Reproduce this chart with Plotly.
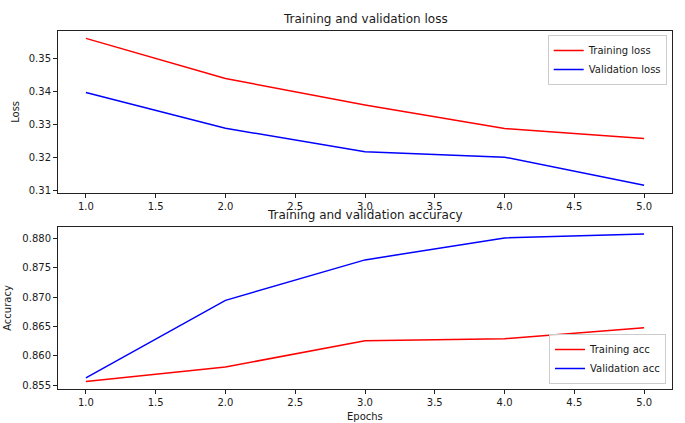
import plotly.graph_objects as go

epochs = [1, 2, 3, 4, 5]
train_loss = [0.3560, 0.3439, 0.3359, 0.3288, 0.3258]
val_loss = [0.3397, 0.3289, 0.3218, 0.3202, 0.3117]
train_acc = [0.85560, 0.85810, 0.86255, 0.86290, 0.86480]
val_acc = [0.85625, 0.86945, 0.87635, 0.88010, 0.88075]

loss_ticks = [0.31, 0.32, 0.33, 0.34, 0.35]
acc_ticks = [0.855, 0.860, 0.865, 0.870, 0.875, 0.880]
x_ticks = [1.0, 1.5, 2.0, 2.5, 3.0, 3.5, 4.0, 4.5, 5.0]


def padded(vals, frac=0.05):
    lo, hi = min(vals), max(vals)
    m = (hi - lo) * frac
    return [lo - m, hi + m]


W, H = 685, 423
ML, MR, MT, MB = 58, 13, 31, 34
FONT = "DejaVu Sans"
TXT = "#1a1a1a"

fig = go.Figure()
fig.add_trace(go.Scatter(x=epochs, y=train_loss, mode="lines", name="Training loss",
                         line=dict(color="#ff0000", width=1.5), xaxis="x", yaxis="y", legend="legend"))
fig.add_trace(go.Scatter(x=epochs, y=val_loss, mode="lines", name="Validation loss",
                         line=dict(color="#0000ff", width=1.5), xaxis="x", yaxis="y", legend="legend"))
fig.add_trace(go.Scatter(x=epochs, y=train_acc, mode="lines", name="Training acc",
                         line=dict(color="#ff0000", width=1.5), xaxis="x2", yaxis="y2", legend="legend2"))
fig.add_trace(go.Scatter(x=epochs, y=val_acc, mode="lines", name="Validation acc",
                         line=dict(color="#0000ff", width=1.5), xaxis="x2", yaxis="y2", legend="legend2"))

ph = H - MT - MB
pw = W - ML - MR
top_dom = [(H - 192.7 - MB) / ph, 1.0]
bot_dom = [0.0, (H - 226.7 - MB) / ph]

axis_common = dict(showline=True, linecolor="#222222", linewidth=1, mirror=True,
                   ticks="outside", ticklen=4, tickwidth=1, tickcolor="#222222",
                   showgrid=False, zeroline=False,
                   tickfont=dict(family=FONT, size=10, color=TXT))

xr = padded(epochs)
fig.update_layout(
    width=W, height=H,
    margin=dict(l=ML, r=MR, t=MT, b=MB, pad=0),
    paper_bgcolor="white", plot_bgcolor="white",
    font=dict(family=FONT, size=10, color=TXT),
    hovermode=False,
    xaxis=dict(domain=[0, 1], anchor="y", range=xr, tickvals=x_ticks, tickformat=".1f", **axis_common),
    yaxis=dict(domain=top_dom, anchor="x", range=padded(train_loss + val_loss),
               tickvals=loss_ticks, tickformat=".2f", **axis_common),
    xaxis2=dict(domain=[0, 1], anchor="y2", range=xr, tickvals=x_ticks, tickformat=".1f", **axis_common),
    yaxis2=dict(domain=bot_dom, anchor="x2", range=padded(train_acc + val_acc),
                tickvals=acc_ticks, tickformat=".3f", **axis_common),
    legend=dict(x=(666.7 - ML) / pw, xanchor="right", y=(H - 35 - MB) / ph, yanchor="top",
                bgcolor="rgba(255,255,255,0.8)", bordercolor="#cccccc", borderwidth=1,
                font=dict(family=FONT, size=10, color=TXT), tracegroupgap=0),
    legend2=dict(x=(666 - ML) / pw, xanchor="right", y=(H - 384 - MB) / ph, yanchor="bottom",
                 bgcolor="rgba(255,255,255,0.8)", bordercolor="#cccccc", borderwidth=1,
                 font=dict(family=FONT, size=10, color=TXT), tracegroupgap=0),
    showlegend=True,
)

annos = [
    dict(text="Training and validation loss", x=0.5, y=top_dom[1], yanchor="bottom", yshift=3,
         font=dict(size=12)),
    dict(text="Training and validation accuracy", x=0.5, y=bot_dom[1], yanchor="bottom", yshift=3,
         font=dict(size=12)),
    dict(text="Loss", x=(16 - ML) / pw, y=(top_dom[0] + top_dom[1]) / 2, textangle=-90,
         xanchor="center", yanchor="middle", font=dict(size=10)),
    dict(text="Accuracy", x=(8 - ML) / pw, y=(bot_dom[0] + bot_dom[1]) / 2, textangle=-90,
         xanchor="center", yanchor="middle", font=dict(size=10)),
    dict(text="Epochs", x=0.5, y=(H - 416 - MB) / ph, xanchor="center", yanchor="middle",
         font=dict(size=10)),
]
for a in annos:
    a.update(xref="paper", yref="paper", showarrow=False)
    a["font"] = dict(family=FONT, color=TXT, **a["font"])
    fig.add_annotation(**a)

fig.write_html("out.html", config={"displayModeBar": False},
               post_script="document.body.style.margin='0';")
